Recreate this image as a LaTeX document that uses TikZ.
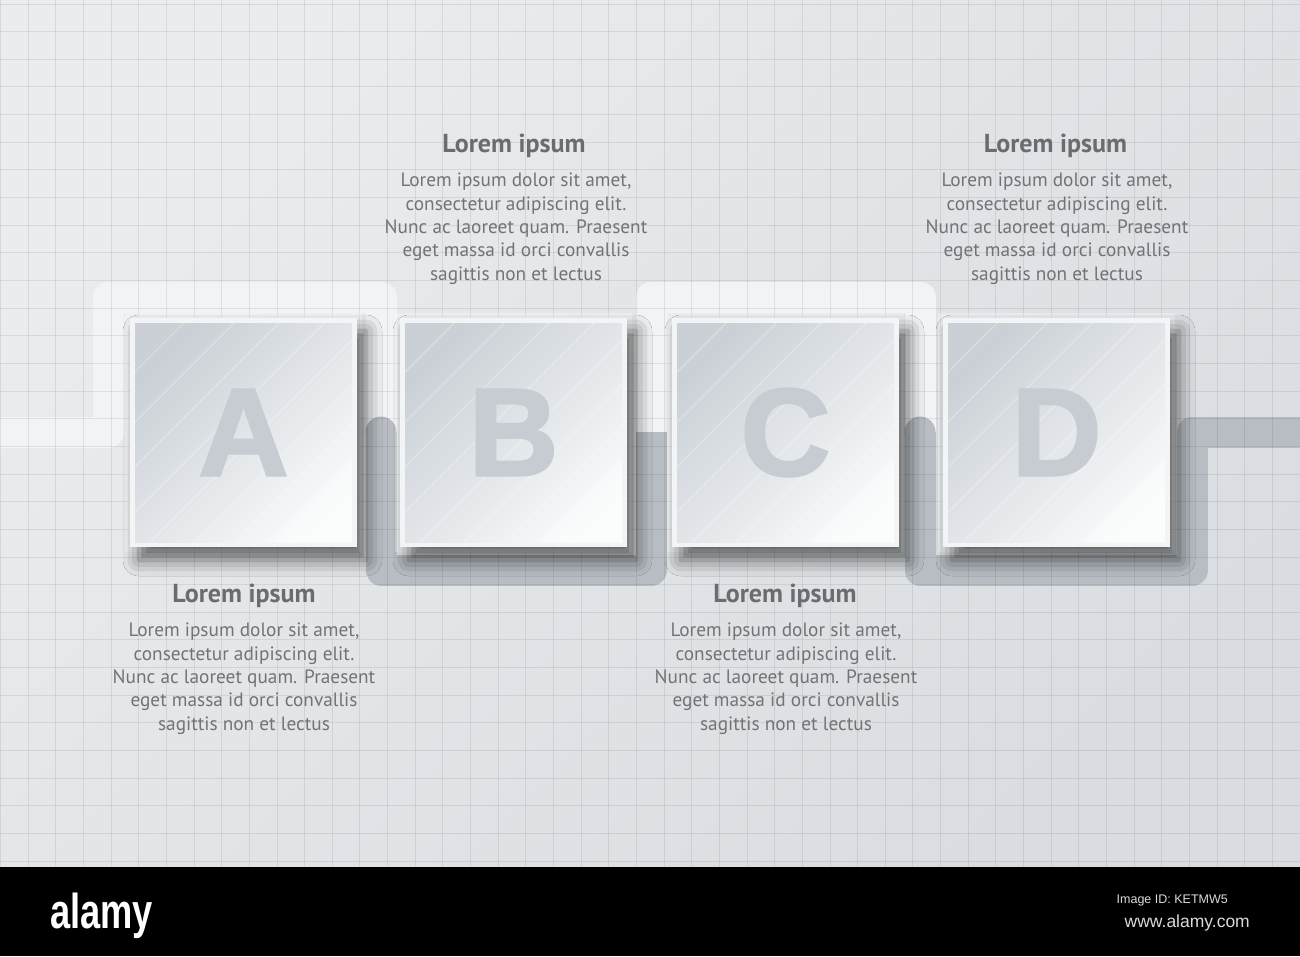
\documentclass[tikz,border=0pt]{standalone}
\usepackage{fontspec}
\setmainfont{PT Sans}
\newfontfamily\letterfont[BoldFeatures={FakeBold=2.2}]{Liberation Sans}
\newfontfamily\logofont{Liberation Sans}
\usetikzlibrary{shadows.blur,calc}

\definecolor{bgA}{HTML}{EAECEE}
\definecolor{bgB}{HTML}{D9DDE1}
\definecolor{headc}{HTML}{6B6C6E}
\definecolor{bodyc}{HTML}{727375}
\definecolor{letc}{HTML}{C6CCD2}
\definecolor{faceA}{HTML}{CAD0D6}
\definecolor{faceB}{HTML}{F8F9FA}
\definecolor{rimc}{HTML}{F3F4F6}
\definecolor{lightc}{HTML}{F2F3F5}
\definecolor{darkrib}{HTML}{B7BDC3}
\definecolor{barc}{HTML}{DADADA}

\begin{document}
\begin{tikzpicture}[x=1pt,y=-1pt,
  gridline/.style={black, opacity=.08, line width=1pt},
  lightrib/.style={lightc, line width=31pt, line join=round, line cap=butt},
  darkribbon/.style={darkrib, line width=31pt, line join=round, line cap=butt},
  dot/.style={darkrib},
  sq/.style={minimum width=227pt, minimum height=229pt, inner sep=0pt, fill=rimc,
    blur shadow={shadow xshift=9pt, shadow yshift=-13pt, shadow blur radius=16pt, shadow opacity=58}},
  halo/.style={white, opacity=.3},
  streak/.style={white, opacity=.28, line width=1.4pt},
  letter/.style={font=\letterfont\bfseries\fontsize{124}{124}\selectfont, text=letc, inner sep=0pt},
  head/.style={font=\bfseries\fontsize{26}{30}\selectfont, text=headc, inner sep=0pt, anchor=base},
  body/.style={font=\fontsize{19.3}{23.3}\selectfont, text=bodyc, align=center, inner sep=0pt, anchor=north},
  bartext/.style={text=barc, inner sep=0pt, anchor=base east}
]
\useasboundingbox (0,0) rectangle (1300,956);

% background
\shade[top color=bgA, bottom color=bgB, shading angle=45] (0,0) rectangle (1300,867);

% ribbon points
\coordinate (s0) at (0,432);
\coordinate (dotAB) at (381,432);
\coordinate (midBC) at (651,432);
\coordinate (dotCD) at (920,432);
\coordinate (e0) at (1300,432);

% light ribbon parts
\draw[lightrib] (s0) -- (108,432) -- (108,297) -- (381,297) -- (dotAB);
\draw[lightrib] (midBC) -- (651,297) -- (920,297) -- (dotCD);
% dark ribbon parts
\fill[dot] (dotAB) circle[radius=15.5pt];
\fill[dot] (dotCD) circle[radius=15.5pt];
\draw[darkribbon] (dotAB) -- (381,570) -- (651,570) -- (midBC);
\draw[darkribbon] (dotCD) -- (920,570) -- (1192,570) -- (1192,432) -- (e0);

% grid over background and ribbons
\foreach \i in {0,...,47} \draw[gridline] ({0.5+27.65*\i},0) -- ++(0,867);
\foreach \j in {0,...,31} \draw[gridline] (0,{4+27.65*\j}) -- ++(1300,0);

% squares
\foreach \n/\cx in {A/243.5, B/513.5, C/785.5, D/1056.5} {
  \fill[halo] (\cx-118.5,313) rectangle (\cx+118.5,552);
}
\foreach \n/\cx in {A/243.5, B/513.5, C/785.5, D/1056.5} {
  \node[sq] (\n) at (\cx,432.5) {};
  \begin{scope}
    \clip (\cx-108.5,323) rectangle (\cx+108.5,542);
    \shade[top color=faceA, bottom color=faceB, shading angle=45] (\cx-108.5,323) rectangle (\cx+108.5,542);
    \foreach \d in {-170,-120,-75,-30,15,60,100,140,175} \draw[streak] (\cx-108.5+\d,542) -- ++(300,-300);
    \fill[white, opacity=.35] (\cx+108.5,542) -- (\cx+25,542) -- (\cx+108.5,458.5) -- cycle;
    \fill[white, opacity=.3] (\cx+108.5,542) -- (\cx+60,542) -- (\cx+108.5,493.5) -- cycle;
  \end{scope}
  \node[letter] (L\n) at (\cx,432.5) {\n};
}

% texts
\node[head] (hB) at (514,152) {Lorem ipsum};
\node[body] (tB) at (516,173) {Lorem ipsum dolor sit amet,\\consectetur adipiscing elit.\\Nunc ac laoreet quam. Praesent\\eget massa id orci convallis\\sagittis non et lectus};
\node[head] (hD) at (1055.5,152) {Lorem ipsum};
\node[body] (tD) at (1057,173) {Lorem ipsum dolor sit amet,\\consectetur adipiscing elit.\\Nunc ac laoreet quam. Praesent\\eget massa id orci convallis\\sagittis non et lectus};
\node[head] (hA) at (244,602) {Lorem ipsum};
\node[body] (tA) at (244,623) {Lorem ipsum dolor sit amet,\\consectetur adipiscing elit.\\Nunc ac laoreet quam. Praesent\\eget massa id orci convallis\\sagittis non et lectus};
\node[head] (hC) at (785,602) {Lorem ipsum};
\node[body] (tC) at (786,623) {Lorem ipsum dolor sit amet,\\consectetur adipiscing elit.\\Nunc ac laoreet quam. Praesent\\eget massa id orci convallis\\sagittis non et lectus};

% bottom bar
\fill[black] (0,867) rectangle (1300,956);
\node[text=white, inner sep=0pt, anchor=base west] (logo) at (50,928)
  {\logofont\bfseries\fontsize{49}{49}\selectfont\scalebox{0.74}[1]{alamy}};
\node[bartext] (imgid) at (1228,903) {\logofont\fontsize{12.5}{14}\selectfont Image ID: KETMW5};
\node[bartext] (www) at (1250,927) {\logofont\fontsize{17.5}{20}\selectfont www.alamy.com};
\end{tikzpicture}
\end{document}
